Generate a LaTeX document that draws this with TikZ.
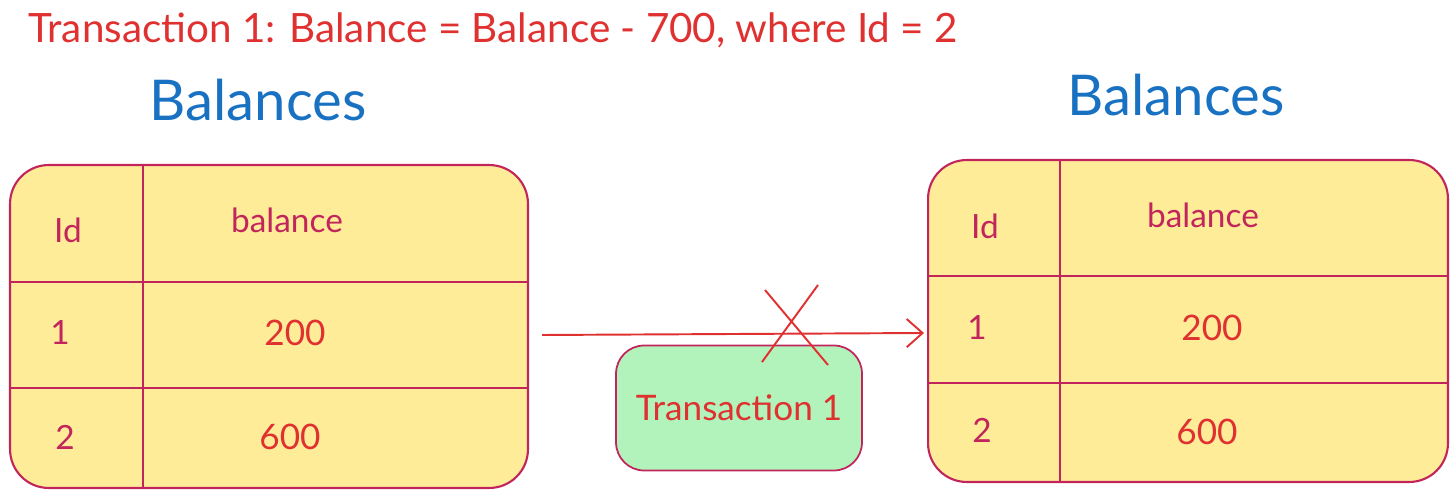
\documentclass[tikz,border=0pt]{standalone}
\usepackage{fontspec}
\setmainfont{Lato}
\usetikzlibrary{positioning,arrows.meta}
\definecolor{tblfill}{HTML}{FFEC99}
\definecolor{tblline}{HTML}{C2255C}
\definecolor{txtred}{HTML}{E03131}
\definecolor{txtblue}{HTML}{1971C2}
\definecolor{boxgreen}{HTML}{B2F2BB}
\begin{document}
\begin{tikzpicture}[x=0.02cm,y=-0.02cm,
        tbl/.style={rectangle,rounded corners=22pt,draw=tblline,line width=1.2pt,fill=tblfill,inner sep=0pt},
        cell/.style={text=tblline,font=\fontsize{19}{22}\selectfont},
        val/.style={text=txtred,font=\fontsize{20}{23}\selectfont},
        title/.style={text=txtblue,font=\fontsize{32}{36}\selectfont},
        tx/.style={rectangle,rounded corners=16pt,draw=tblline,line width=1pt,fill=boxgreen,minimum width=4.92cm,minimum height=2.5cm},
        arr/.style={draw=txtred,line width=1.1pt,-{Straight Barb[length=9pt,width=16pt]}},
        sep/.style={draw=tblline,line width=1.1pt}
        ]
        \useasboundingbox (0,0) rectangle (1456,496);
        \node (head) [text=txtred,font=\fontsize{23}{26}\selectfont] at (493,30) {Transaction 1: Balance = Balance - 700, where Id = 2};
        % left table
        \node (tl) [title] at (258,100) {Balances};
        \node (left) [tbl,minimum width=10.36cm,minimum height=6.46cm] at (269,326.5) {};
        \draw[sep] (143,165) -- (143,488);
        \draw[sep] (10,282) -- (528,282);
        \draw[sep] (10,388) -- (528,388);
        \node (lid) [cell] at (68,230) {Id};
        \node (lbal) [cell] at (287,220) {balance};
        \node (l1) [cell] at (60,333) {1};
        \node (l200) [val] at (295,333) {200};
        \node (l2) [cell] at (65,437) {2};
        \node (l600) [val] at (290,437) {600};
        % right table
        \node (tr) [title] at (1176,95) {Balances};
        \node (right) [tbl,minimum width=10.4cm,minimum height=6.44cm] at (1188,321) {};
        \draw[sep] (1060,160) -- (1060,482);
        \draw[sep] (928,276) -- (1448,276);
        \draw[sep] (928,383) -- (1448,383);
        \node (rid) [cell] at (985,226) {Id};
        \node (rbal) [cell] at (1203,215) {balance};
        \node (r1) [cell] at (977,328) {1};
        \node (r200) [val] at (1212,328) {200};
        \node (r2) [cell] at (982,430) {2};
        \node (r600) [val] at (1207,432) {600};
        % transaction
        \node (t1) [tx,text=txtred,font=\fontsize{20}{23}\selectfont] at (739,408) {Transaction 1};
        \coordinate (from) at (542,335);
        \coordinate (to) at (924,333);
        \draw[arr] (from) -- (to);
        \draw[draw=txtred,line width=1.1pt] (765,290) -- (828,365) (818,285) -- (762,362);
    \end{tikzpicture}
\end{document}
